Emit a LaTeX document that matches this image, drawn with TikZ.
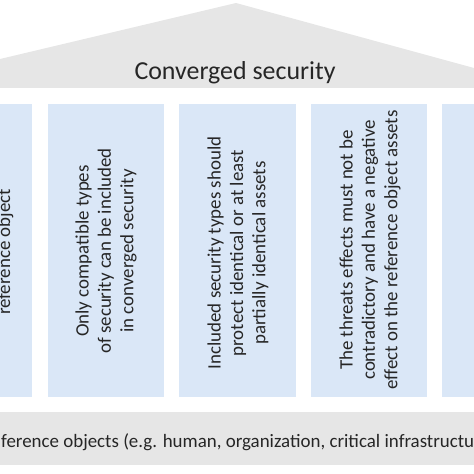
\documentclass[tikz,border=0pt]{standalone}
\usepackage{fontspec}
\setmainfont{Carlito}
\definecolor{roofgray}{HTML}{E6E6E6}
\definecolor{pillarblue}{HTML}{DAE7F7}
\definecolor{txt}{HTML}{262626}
\begin{document}
\begin{tikzpicture}[x=1bp,y=-1bp,
  pillar/.style={fill=pillarblue,draw=none},
  ptext/.style={rotate=90,align=center,text=txt,inner sep=0pt,font=\fontsize{19}{22.5}\selectfont},
  btext/.style={text=txt,inner sep=0pt,font=\fontsize{19}{22.5}\selectfont},
  rtext/.style={text=txt,inner sep=0pt,font=\fontsize{26}{31}\selectfont}]
\useasboundingbox (0,0) rectangle (474,474);
\clip (0,0) rectangle (474,474);
% roof
\fill[roofgray] (0,88) -- (0,59) -- (236,3) -- (474,68) -- (474,88) -- cycle;
\node[rtext,anchor=base] (roof) at (235,80) {Converged security};
% pillars
\fill[pillar] (-84,104) rectangle (32,397);
\fill[pillar] (48,104) rectangle (164,397);
\fill[pillar] (179,104) rectangle (296,397);
\fill[pillar] (311,104) rectangle (427,397);
\fill[pillar] (442,104) rectangle (558,397);
\node[ptext,anchor=base] (p1) at (10,252) {reference object};
\node[ptext] (p2) at (106,251) {Only compatible types\\of security can be included\\in converged security};
\node[ptext] (p3) at (238,253) {Included security types should\\protect identical or at least\\partially identical assets};
\node[ptext] (p4) at (370,250) {The threats effects must not be\\contradictory and have a negative\\effect on the reference object assets};
% base
\fill[roofgray] (0,412) rectangle (474,465);
\node[btext,anchor=base west] (base) at (1,447) {ference objects (e.g. human, organization, critical infrastructu};
\end{tikzpicture}
\end{document}
